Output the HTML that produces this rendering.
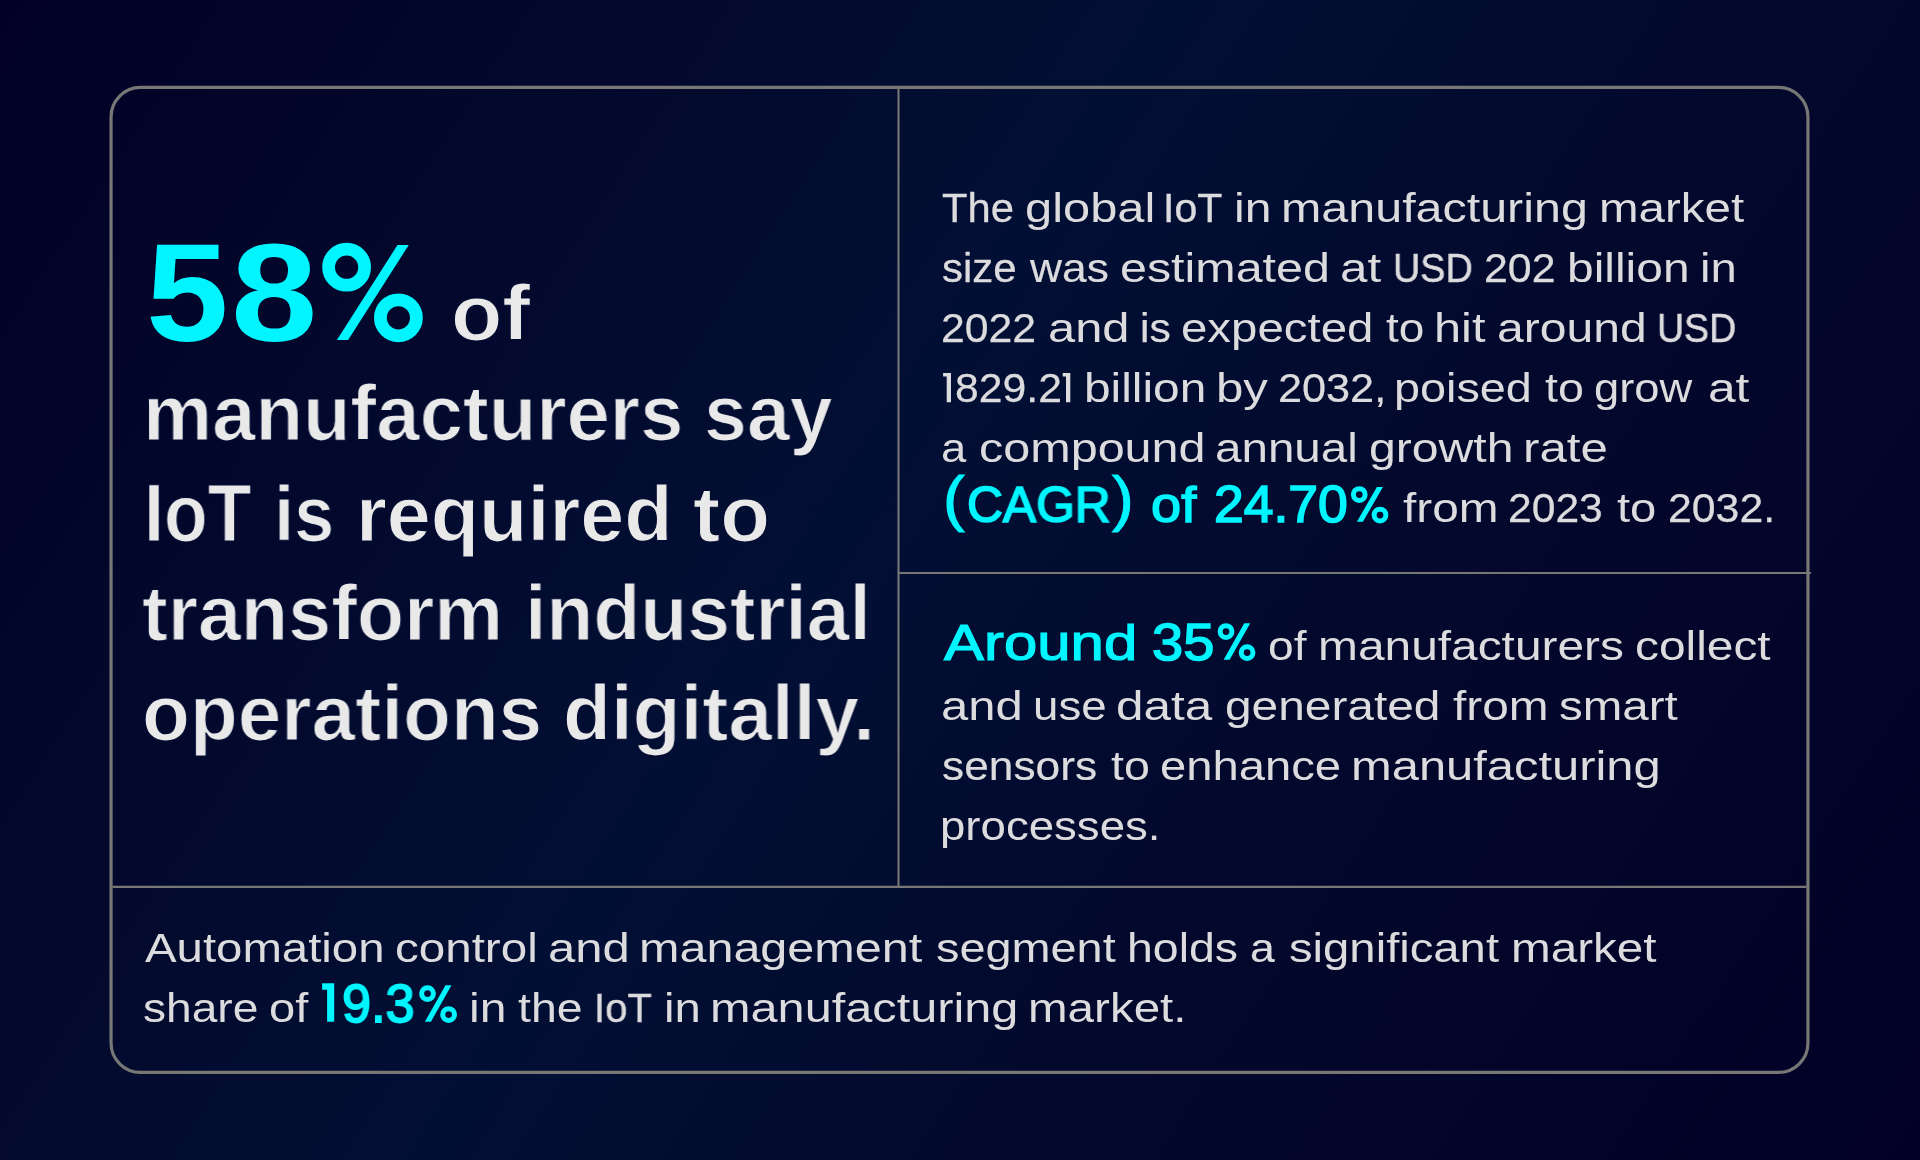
<!DOCTYPE html>
<html lang="en">
<head>
<meta charset="utf-8">
<title>IoT in Manufacturing Statistics</title>
<style>
html,body{margin:0;padding:0;}
body{width:1920px;height:1160px;overflow:hidden;position:relative;font-family:"Liberation Sans",sans-serif;
background:linear-gradient(123deg,#020026 0%,#030a2e 28%,#020f34 44%,#03072b 72%,#020026 100%);}
.t{position:absolute;white-space:nowrap;line-height:1;transform-origin:0 0;margin:0;will-change:transform;}
</style>
</head>
<body>
<svg class="pct" width="110" height="104" viewBox="318 240 110 104" style="position:absolute;left:318px;top:240px" aria-label="percent">
<circle cx="346.6" cy="267.2" r="18.0" fill="none" stroke="#00f5ff" stroke-width="12.8"/>
<circle cx="398.4" cy="317.8" r="18.0" fill="none" stroke="#00f5ff" stroke-width="12.8"/>
<polygon points="397.5,245 408.75,245 348.1,340 336.9,340" fill="#00f5ff"/>
</svg>
<svg class="shapes" width="1920" height="1160" viewBox="0 0 1920 1160" style="position:absolute;left:0;top:0"><rect x="111.05" y="87.45" width="1696.9" height="984.95" rx="29.5" ry="29.5" fill="none" stroke="#777776" stroke-width="3.2"/><line x1="898.5" y1="89" x2="898.5" y2="886.5" stroke="#777776" stroke-width="2.1"/><line x1="898" y1="573.05" x2="1811" y2="573.05" stroke="#777776" stroke-width="2.1"/><line x1="112.5" y1="886.9" x2="1806.5" y2="886.9" stroke="#777776" stroke-width="2.1"/><circle cx="1359.25" cy="494.5" r="5.875" fill="none" stroke="#00f5ff" stroke-width="5.0"/><circle cx="1380" cy="515" r="5.875" fill="none" stroke="#00f5ff" stroke-width="5.0"/><polygon points="1376.9,487 1382.9,487 1362.9,521.75 1356.9,521.75" fill="#00f5ff"/><circle cx="1226" cy="631.5" r="5.875" fill="none" stroke="#00f5ff" stroke-width="5.0"/><circle cx="1247.1" cy="652.6" r="5.875" fill="none" stroke="#00f5ff" stroke-width="5.0"/><polygon points="1244.25,623.25 1250.25,623.25 1229.6,659.75 1223.6,659.75" fill="#00f5ff"/><circle cx="427.5" cy="993.6" r="5.875" fill="none" stroke="#00f5ff" stroke-width="5.0"/><circle cx="448.6" cy="1014.5" r="5.875" fill="none" stroke="#00f5ff" stroke-width="5.0"/><polygon points="445.5,985.25 451.5,985.25 430.9,1021.75 424.9,1021.75" fill="#00f5ff"/><polygon points="943.1,373 951,373 951,402.2 946.7,402.2 946.7,376.5 943.1,376.5" fill="#dcdcde"/><polygon points="1062.7,373 1070.3,373 1070.3,402.2 1066,402.2 1066,376.5 1062.7,376.5" fill="#dcdcde"/><polygon points="322.1,983.3 334.2,983.3 334.2,1021.8 327.1,1021.8 327.1,989.75 322.1,989.75" fill="#00f5ff"/></svg>
<div class="t" style="left:145.93px;top:223px;font-size:139px;font-weight:700;color:#00f5ff;transform:scaleX(1.0671)">5</div>
<div class="t" style="left:231.33px;top:223px;font-size:139px;font-weight:700;color:#00f5ff;transform:scaleX(1.1174)">8</div>
<div class="t" style="left:450.90px;top:274px;font-size:78.5px;font-weight:700;color:#e9e9ea;-webkit-text-stroke:1.2px #020c31;transform:scaleX(1.0695)">of</div>
<div class="t" style="left:143.20px;top:374px;font-size:78.5px;font-weight:700;color:#e9e9ea;-webkit-text-stroke:1.2px #020c31;transform:scaleX(0.9908)">manufacturers</div>
<div class="t" style="left:703.77px;top:374px;font-size:78.5px;font-weight:700;color:#e9e9ea;-webkit-text-stroke:1.2px #020c31;transform:scaleX(0.9817)">say</div>
<div class="t" style="left:143.85px;top:472px;font-size:82px;font-weight:700;color:#e9e9ea;-webkit-text-stroke:1.2px #020c31;transform:scaleX(0.8744)">IoT</div>
<div class="t" style="left:274.04px;top:475px;font-size:78.5px;font-weight:700;color:#e9e9ea;-webkit-text-stroke:1.2px #020c31;transform:scaleX(0.9211)">is</div>
<div class="t" style="left:356.26px;top:475px;font-size:78.5px;font-weight:700;color:#e9e9ea;-webkit-text-stroke:1.2px #020c31;transform:scaleX(1.0079)">required</div>
<div class="t" style="left:693.14px;top:475px;font-size:78.5px;font-weight:700;color:#e9e9ea;-webkit-text-stroke:1.2px #020c31;transform:scaleX(1.0385)">to</div>
<div class="t" style="left:142.17px;top:574px;font-size:78.5px;font-weight:700;color:#e9e9ea;-webkit-text-stroke:1.2px #020c31;transform:scaleX(0.9854)">transform</div>
<div class="t" style="left:524.92px;top:574px;font-size:78.5px;font-weight:700;color:#e9e9ea;-webkit-text-stroke:1.2px #020c31;transform:scaleX(0.9789)">industrial</div>
<div class="t" style="left:142.41px;top:674px;font-size:78.5px;font-weight:700;color:#e9e9ea;-webkit-text-stroke:1.2px #020c31;transform:scaleX(0.9973)">operations</div>
<div class="t" style="left:563.41px;top:674px;font-size:78.5px;font-weight:700;color:#e9e9ea;-webkit-text-stroke:1.2px #020c31;transform:scaleX(0.9980)">digitally.</div>
<div class="t" style="left:942.14px;top:188px;font-size:41px;font-weight:400;color:#dcdcde;-webkit-text-stroke:0.3px #dcdcde;transform:scaleX(1.0176)">The</div>
<div class="t" style="left:1024.62px;top:188px;font-size:41px;font-weight:400;color:#dcdcde;transform:scaleX(1.1905)">global</div>
<div class="t" style="left:1163.20px;top:188px;font-size:41px;font-weight:400;color:#dcdcde;-webkit-text-stroke:0.35px #dcdcde;transform:scaleX(0.9937)">IoT</div>
<div class="t" style="left:1233.98px;top:188px;font-size:41px;font-weight:400;color:#dcdcde;transform:scaleX(1.1731)">in</div>
<div class="t" style="left:1281.46px;top:188px;font-size:41px;font-weight:400;color:#dcdcde;transform:scaleX(1.1811)">manufacturing</div>
<div class="t" style="left:1599.03px;top:188px;font-size:41px;font-weight:400;color:#dcdcde;transform:scaleX(1.1578)">market</div>
<div class="t" style="left:942.12px;top:248px;font-size:41px;font-weight:400;color:#dcdcde;-webkit-text-stroke:0.29px #dcdcde;transform:scaleX(1.0243)">size</div>
<div class="t" style="left:1029.60px;top:248px;font-size:41px;font-weight:400;color:#dcdcde;-webkit-text-stroke:0.18px #dcdcde;transform:scaleX(1.0806)">was</div>
<div class="t" style="left:1119.64px;top:248px;font-size:41px;font-weight:400;color:#dcdcde;transform:scaleX(1.1806)">estimated</div>
<div class="t" style="left:1339.59px;top:248px;font-size:41px;font-weight:400;color:#dcdcde;transform:scaleX(1.2031)">at</div>
<div class="t" style="left:1393.48px;top:248px;font-size:41px;font-weight:400;color:#dcdcde;-webkit-text-stroke:0.52px #dcdcde;transform:scaleX(0.9210)">USD</div>
<div class="t" style="left:1484.29px;top:248px;font-size:41px;font-weight:400;color:#dcdcde;-webkit-text-stroke:0.25px #dcdcde;transform:scaleX(1.0460)">202</div>
<div class="t" style="left:1566.99px;top:248px;font-size:41px;font-weight:400;color:#dcdcde;transform:scaleX(1.1692)">billion</div>
<div class="t" style="left:1699.54px;top:248px;font-size:41px;font-weight:400;color:#dcdcde;transform:scaleX(1.1538)">in</div>
<div class="t" style="left:941.05px;top:308px;font-size:41px;font-weight:400;color:#dcdcde;-webkit-text-stroke:0.25px #dcdcde;transform:scaleX(1.0425)">2022</div>
<div class="t" style="left:1047.62px;top:308px;font-size:41px;font-weight:400;color:#dcdcde;transform:scaleX(1.1914)">and</div>
<div class="t" style="left:1139.51px;top:308px;font-size:41px;font-weight:400;color:#dcdcde;-webkit-text-stroke:0.25px #dcdcde;transform:scaleX(1.0396)">is</div>
<div class="t" style="left:1181.44px;top:308px;font-size:41px;font-weight:400;color:#dcdcde;transform:scaleX(1.1559)">expected</div>
<div class="t" style="left:1385.50px;top:308px;font-size:41px;font-weight:400;color:#dcdcde;transform:scaleX(1.1212)">to</div>
<div class="t" style="left:1433.94px;top:308px;font-size:41px;font-weight:400;color:#dcdcde;transform:scaleX(1.1875)">hit</div>
<div class="t" style="left:1497.15px;top:308px;font-size:41px;font-weight:400;color:#dcdcde;transform:scaleX(1.1728)">around</div>
<div class="t" style="left:1657.00px;top:308px;font-size:41px;font-weight:400;color:#dcdcde;-webkit-text-stroke:0.54px #dcdcde;transform:scaleX(0.9147)">USD</div>
<div class="t" style="left:954.85px;top:368px;font-size:41px;font-weight:400;color:#dcdcde;-webkit-text-stroke:0.26px #dcdcde;transform:scaleX(1.0417)">829.2</div>
<div class="t" style="left:1084.00px;top:368px;font-size:41px;font-weight:400;color:#dcdcde;transform:scaleX(1.1667)">billion</div>
<div class="t" style="left:1215.90px;top:368px;font-size:41px;font-weight:400;color:#dcdcde;transform:scaleX(1.2000)">by</div>
<div class="t" style="left:1277.51px;top:368px;font-size:41px;font-weight:400;color:#dcdcde;-webkit-text-stroke:0.23px #dcdcde;transform:scaleX(1.0542)">2032,</div>
<div class="t" style="left:1394.08px;top:368px;font-size:41px;font-weight:400;color:#dcdcde;transform:scaleX(1.1413)">poised</div>
<div class="t" style="left:1544.50px;top:368px;font-size:41px;font-weight:400;color:#dcdcde;transform:scaleX(1.1364)">to</div>
<div class="t" style="left:1594.04px;top:368px;font-size:41px;font-weight:400;color:#dcdcde;transform:scaleX(1.1063)">grow</div>
<div class="t" style="left:1707.58px;top:368px;font-size:41px;font-weight:400;color:#dcdcde;transform:scaleX(1.2109)">at</div>
<div class="t" style="left:940.79px;top:428px;font-size:41px;font-weight:400;color:#dcdcde;transform:scaleX(1.1071)">a</div>
<div class="t" style="left:978.88px;top:428px;font-size:41px;font-weight:400;color:#dcdcde;transform:scaleX(1.1832)">compound</div>
<div class="t" style="left:1215.18px;top:428px;font-size:41px;font-weight:400;color:#dcdcde;transform:scaleX(1.1597)">annual</div>
<div class="t" style="left:1369.15px;top:428px;font-size:41px;font-weight:400;color:#dcdcde;transform:scaleX(1.1744)">growth</div>
<div class="t" style="left:1522.65px;top:428px;font-size:41px;font-weight:400;color:#dcdcde;transform:scaleX(1.2008)">rate</div>
<div class="t" style="left:966.86px;top:480px;font-size:50px;font-weight:400;color:#00f5ff;-webkit-text-stroke:1.71px #00f5ff;transform:scaleX(0.9950)">CAGR</div>
<div class="t" style="left:1151.12px;top:480px;font-size:50px;font-weight:400;color:#00f5ff;-webkit-text-stroke:1.46px #00f5ff;transform:scaleX(1.0854)">of</div>
<div class="t" style="left:1213.77px;top:478px;font-size:52px;font-weight:400;color:#00f5ff;-webkit-text-stroke:1.61px #00f5ff;transform:scaleX(1.0285)">24.70</div>
<div class="t" style="left:943.29px;top:467px;font-size:61.6px;font-weight:400;color:#00f5ff;-webkit-text-stroke:1.0px #00f5ff;transform:scaleX(1.0588)">(</div>
<div class="t" style="left:1112.47px;top:467px;font-size:61.6px;font-weight:400;color:#00f5ff;-webkit-text-stroke:1.0px #00f5ff;transform:scaleX(1.0588)">)</div>
<div class="t" style="left:1402.50px;top:488px;font-size:41px;font-weight:400;color:#dcdcde;transform:scaleX(1.1646)">from</div>
<div class="t" style="left:1507.56px;top:488px;font-size:41px;font-weight:400;color:#dcdcde;-webkit-text-stroke:0.26px #dcdcde;transform:scaleX(1.0395)">2023</div>
<div class="t" style="left:1617.00px;top:488px;font-size:41px;font-weight:400;color:#dcdcde;transform:scaleX(1.1515)">to</div>
<div class="t" style="left:1667.54px;top:488px;font-size:41px;font-weight:400;color:#dcdcde;-webkit-text-stroke:0.25px #dcdcde;transform:scaleX(1.0437)">2032.</div>
<div class="t" style="left:943.71px;top:618px;font-size:50px;font-weight:400;color:#00f5ff;-webkit-text-stroke:1.19px #00f5ff;transform:scaleX(1.1983)">Around</div>
<div class="t" style="left:1151.64px;top:616px;font-size:52px;font-weight:400;color:#00f5ff;-webkit-text-stroke:1.48px #00f5ff;transform:scaleX(1.0770)">35</div>
<div class="t" style="left:1267.75px;top:626px;font-size:41px;font-weight:400;color:#dcdcde;transform:scaleX(1.1250)">of</div>
<div class="t" style="left:1317.75px;top:626px;font-size:41px;font-weight:400;color:#dcdcde;transform:scaleX(1.1676)">manufacturers</div>
<div class="t" style="left:1634.67px;top:626px;font-size:41px;font-weight:400;color:#dcdcde;transform:scaleX(1.1667)">collect</div>
<div class="t" style="left:940.61px;top:686px;font-size:41px;font-weight:400;color:#dcdcde;transform:scaleX(1.1953)">and</div>
<div class="t" style="left:1033.27px;top:686px;font-size:41px;font-weight:400;color:#dcdcde;transform:scaleX(1.1129)">use</div>
<div class="t" style="left:1115.59px;top:686px;font-size:41px;font-weight:400;color:#dcdcde;transform:scaleX(1.2051)">data</div>
<div class="t" style="left:1224.67px;top:686px;font-size:41px;font-weight:400;color:#dcdcde;transform:scaleX(1.1667)">generated</div>
<div class="t" style="left:1452.50px;top:686px;font-size:41px;font-weight:400;color:#dcdcde;transform:scaleX(1.1646)">from</div>
<div class="t" style="left:1558.84px;top:686px;font-size:41px;font-weight:400;color:#dcdcde;transform:scaleX(1.1584)">smart</div>
<div class="t" style="left:942.02px;top:746px;font-size:41px;font-weight:400;color:#dcdcde;-webkit-text-stroke:0.18px #dcdcde;transform:scaleX(1.0802)">sensors</div>
<div class="t" style="left:1110.50px;top:746px;font-size:41px;font-weight:400;color:#dcdcde;transform:scaleX(1.1364)">to</div>
<div class="t" style="left:1160.20px;top:746px;font-size:41px;font-weight:400;color:#dcdcde;transform:scaleX(1.1510)">enhance</div>
<div class="t" style="left:1350.67px;top:746px;font-size:41px;font-weight:400;color:#dcdcde;transform:scaleX(1.1919)">manufacturing</div>
<div class="t" style="left:939.66px;top:806px;font-size:41px;font-weight:400;color:#dcdcde;transform:scaleX(1.1120)">processes.</div>
<div class="t" style="left:144.50px;top:928px;font-size:41px;font-weight:400;color:#dcdcde;transform:scaleX(1.1549)">Automation</div>
<div class="t" style="left:394.68px;top:928px;font-size:41px;font-weight:400;color:#dcdcde;transform:scaleX(1.1597)">control</div>
<div class="t" style="left:548.11px;top:928px;font-size:41px;font-weight:400;color:#dcdcde;transform:scaleX(1.1953)">and</div>
<div class="t" style="left:639.45px;top:928px;font-size:41px;font-weight:400;color:#dcdcde;transform:scaleX(1.1833)">management</div>
<div class="t" style="left:936.11px;top:928px;font-size:41px;font-weight:400;color:#dcdcde;transform:scaleX(1.1426)">segment</div>
<div class="t" style="left:1127.10px;top:928px;font-size:41px;font-weight:400;color:#dcdcde;transform:scaleX(1.1330)">holds</div>
<div class="t" style="left:1249.91px;top:928px;font-size:41px;font-weight:400;color:#dcdcde;-webkit-text-stroke:0.16px #dcdcde;transform:scaleX(1.0870)">a</div>
<div class="t" style="left:1289.10px;top:928px;font-size:41px;font-weight:400;color:#dcdcde;transform:scaleX(1.1519)">significant</div>
<div class="t" style="left:1511.01px;top:928px;font-size:41px;font-weight:400;color:#dcdcde;transform:scaleX(1.1619)">market</div>
<div class="t" style="left:143.38px;top:988px;font-size:41px;font-weight:400;color:#dcdcde;transform:scaleX(1.1250)">share</div>
<div class="t" style="left:268.95px;top:988px;font-size:41px;font-weight:400;color:#dcdcde;transform:scaleX(1.1484)">of</div>
<div class="t" style="left:468.98px;top:988px;font-size:41px;font-weight:400;color:#dcdcde;transform:scaleX(1.1731)">in</div>
<div class="t" style="left:518.00px;top:988px;font-size:41px;font-weight:400;color:#dcdcde;transform:scaleX(1.1318)">the</div>
<div class="t" style="left:593.54px;top:988px;font-size:41px;font-weight:400;color:#dcdcde;-webkit-text-stroke:0.39px #dcdcde;transform:scaleX(0.9749)">IoT</div>
<div class="t" style="left:663.54px;top:988px;font-size:41px;font-weight:400;color:#dcdcde;transform:scaleX(1.1538)">in</div>
<div class="t" style="left:710.19px;top:988px;font-size:41px;font-weight:400;color:#dcdcde;transform:scaleX(1.1870)">manufacturing</div>
<div class="t" style="left:1027.77px;top:988px;font-size:41px;font-weight:400;color:#dcdcde;transform:scaleX(1.1596)">market.</div>
<div class="t" style="left:342.23px;top:976px;font-size:54px;font-weight:400;color:#00f5ff;-webkit-text-stroke:1.79px #00f5ff;transform:scaleX(0.9679)">9.3</div>
</body>
</html>
